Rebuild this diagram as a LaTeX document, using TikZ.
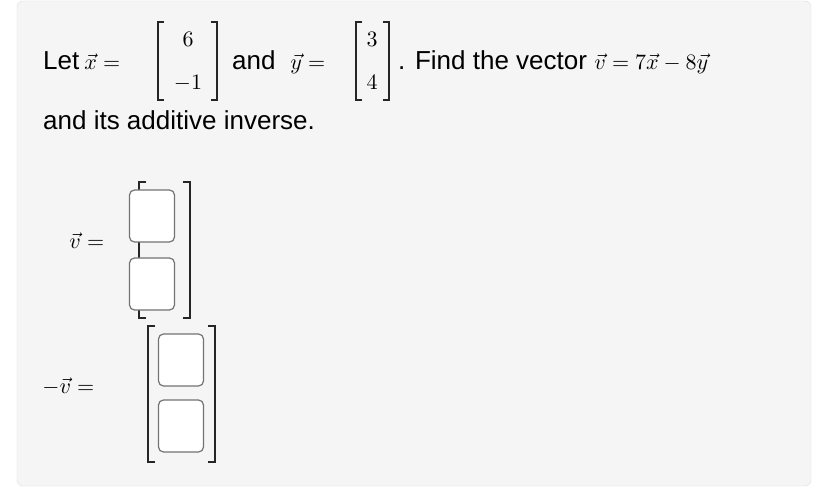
\documentclass[tikz,border=0pt]{standalone}
\usepackage{fontspec}
\setmainfont{Liberation Sans}
\begin{document}
\begin{tikzpicture}[x=1pt,y=-1pt,
  txt/.style={anchor=base west,inner sep=0,font=\fontsize{26}{30}\selectfont},
  mth/.style={anchor=base,inner sep=0,scale=2.2},
  mthl/.style={anchor=base west,inner sep=0,scale=2.2},
  brk/.style={line width=1.6pt,black!85},
  ibox/.style={draw=black!55,line width=1.2pt,fill=white,rounded corners=5pt,minimum width=45pt,minimum height=52pt,inner sep=0}]
\useasboundingbox (0,0) rectangle (828,497);
\fill[white] (0,0) rectangle (828,497);
\draw[fill=black!4,draw=black!13,rounded corners=6pt] (17,1) rectangle (811,486);
% line 1
\node[txt] (let) at (43,70) {Let};
\node[mthl] (xv) at (84,70) {$\vec{x}=$};
\draw[brk] (164,22) -- (158,22) -- (158,100) -- (164,100);
\draw[brk] (211,22) -- (217,22) -- (217,100) -- (211,100);
\node[mth] (x1) at (188,47) {$6$};
\node[mth] (x2) at (188,90) {$-1$};
\node[txt] (and) at (232,70) {and};
\node[mthl] (yv) at (290,70) {$\vec{y}=$};
\draw[brk] (362,22) -- (356,22) -- (356,100) -- (362,100);
\draw[brk] (383,22) -- (389,22) -- (389,100) -- (383,100);
\node[mth] (y1) at (372,47) {$3$};
\node[mth] (y2) at (372,90) {$4$};
\node[txt] (find) at (398,70) {. Find the vector};
\node[mthl] (eq) at (594,70) {$\vec{v}=7\vec{x}-8\vec{y}$};
\node[txt] (inv) at (43,130) {and its additive inverse.};
% v
\node[mthl] (v) at (69,249) {$\vec{v}=$};
\draw[brk] (146,182) -- (139,182) -- (139,318) -- (146,318);
\draw[brk] (183,182) -- (190,182) -- (190,318) -- (183,318);
\node[ibox] (v1) at (152,216) {};
\node[ibox] (v2) at (152,284) {};
% -v
\node[mthl] (nv) at (42,393) {$-\vec{v}=$};
\draw[brk] (155,326) -- (148,326) -- (148,462) -- (155,462);
\draw[brk] (208,326) -- (215,326) -- (215,462) -- (208,462);
\node[ibox] (w1) at (181,360) {};
\node[ibox] (w2) at (181,426) {};
\end{tikzpicture}
\end{document}
